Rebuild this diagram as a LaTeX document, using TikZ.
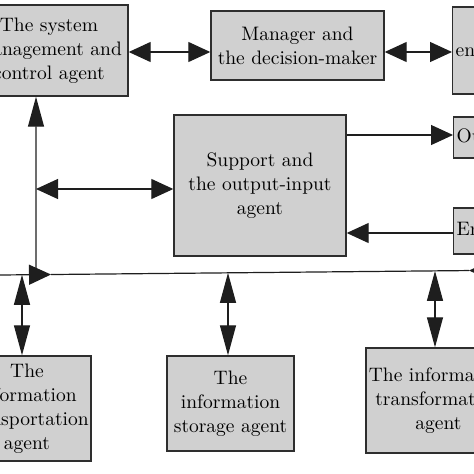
\documentclass[tikz,border=0pt]{standalone}
\usepackage{fontspec}
\setmainfont{lmroman10-regular}[Extension=.otf]
\usetikzlibrary{arrows.meta,calc}
\definecolor{boxfill}{HTML}{D0D0D0}
\definecolor{boxline}{HTML}{2E2E2E}
\definecolor{conn}{HTML}{1E1E1E}
\begin{document}
\begin{tikzpicture}[x=1pt,y=-1pt,
  Hh/.tip={Triangle[length=22pt,width=20pt]},
  Vh/.tip={Triangle[length=30pt,width=16pt]},
  agentbox/.style={draw=boxline, fill=boxfill, line width=1.4pt, align=center,
    inner sep=0pt, font=\fontsize{19.5}{24}\selectfont},
  edgebox/.style={agentbox, anchor=west, align=left, inner xsep=3pt, text width=94pt},
  conline/.style={draw=conn, line width=1.2pt}
]
\useasboundingbox (0,0) rectangle (474,474);
\clip (0,0) rectangle (474,474);

% boxes
\node[agentbox, minimum width=158pt, minimum height=91pt] (A) at (49,50.5)
  {The system\\management and\\control agent};
\node[agentbox, minimum width=173pt, minimum height=69pt] (B) at (297.5,45.5)
  {Manager and\\the decision-maker};
\node[edgebox, minimum height=87pt] (C) at (452,50.5) {environment};
\node[agentbox, minimum width=172pt, minimum height=141pt] (D) at (260,185.5)
  {Support and\\the output-input\\agent};
\node[edgebox, minimum height=41pt] (O) at (453,137.5) {Output};
\node[edgebox, minimum height=46pt] (E) at (453,231) {Entry};
\node[agentbox, minimum width=128pt, minimum height=105pt] (F) at (27,408.5)
  {The\\information\\transportation\\agent};
\node[agentbox, minimum width=127pt, minimum height=95pt] (G) at (230.5,403.5)
  {The\\information\\storage agent};
\node[agentbox, minimum width=145pt, minimum height=105pt] (H) at (438.5,400.5)
  {The information\\transformation\\agent};

% helper coordinates
\coordinate (y1) at (0,52);
\coordinate (y2) at (0,189);
\coordinate (y3) at (0,135);
\coordinate (y4) at (0,233);
\coordinate (vx) at (36,0);
\coordinate (busL) at (0,275);
\coordinate (busR) at (474,270.5);
\coordinate (jn) at ($(busL)!51/474!(busR)$);
\coordinate (jv) at ($(busL)!36/474!(busR)$);
\coordinate (busE) at ($(busL)!469/474!(busR)$);
\coordinate (busX) at ($(busL)!500/474!(busR)$);
\coordinate (bF) at ($(busL)!22/474!(busR)$);
\coordinate (bG) at ($(busL)!228/474!(busR)$);
\coordinate (bH) at ($(busL)!435/474!(busR)$);

% top row connectors
\draw[conline, Hh-Hh] (A.east |- y1) -- (B.west |- y1);
\draw[conline, Hh-Hh] (B.east |- y1) -- (C.west |- y1);

% vertical trunk from A to bus
\draw[conline, Vh-] (A.south -| vx) -- (jv);
\draw[conline, Hh-Hh] (vx |- y2) -- (D.west |- y2);

% D with outside boxes
\draw[conline, -Hh] (D.east |- y3) -- (O.west |- y3);
\draw[conline, -Hh] (E.west |- y4) -- (D.east |- y4);

% bus
\draw[conline, -Hh] (busL) -- (jn);
\draw[conline] (jn) -- (busE);
\draw[conline, Hh-] (busE) -- (busX);

% bottom connectors
\draw[conline, Vh-Vh] (bF) -- (F.north -| bF);
\draw[conline, Vh-Vh] (bG) -- (G.north -| bG);
\draw[conline, Vh-Vh] (bH) -- (H.north -| bH);
\end{tikzpicture}
\end{document}
